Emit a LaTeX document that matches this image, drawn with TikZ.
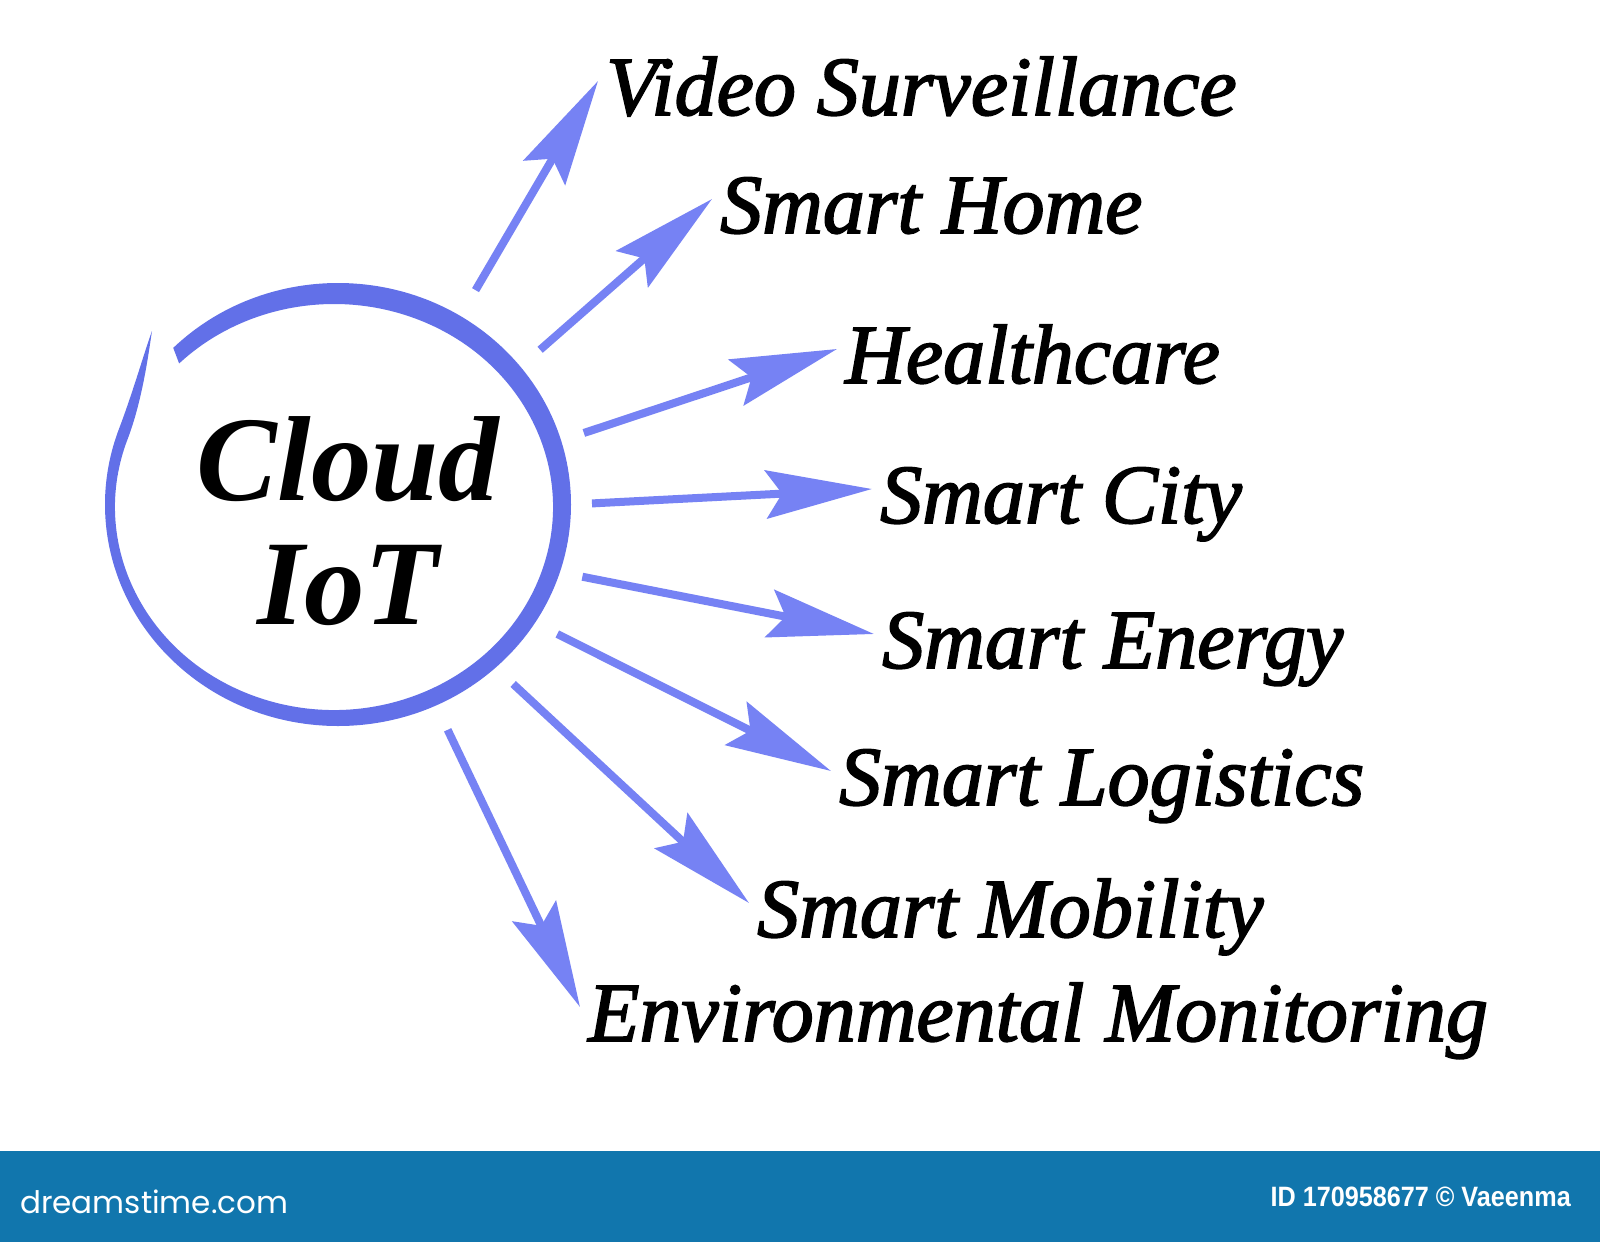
\documentclass[tikz,border=0pt]{standalone}
\usepackage{fontspec}
\setmainfont{Liberation Serif}[ItalicFeatures={FakeBold=2}]
\newfontfamily\creditfont{Liberation Sans}[FakeStretch=0.9]
\newfontfamily\brandfont{Poppins}
\usetikzlibrary{arrows.meta,shapes.geometric}

\definecolor{ringblue}{RGB}{98,112,232}
\definecolor{spokeblue}{RGB}{118,130,244}
\definecolor{barblue}{RGB}{17,118,173}

\tikzset{
	hub/.style={ellipse, minimum width=466pt, minimum height=443pt, inner sep=0pt, outer sep=0pt},
	hubtext/.style={align=center, inner sep=0pt, font=\fontsize{121}{124}\selectfont\bfseries\itshape},
	topic/.style={anchor=base west, inner xsep=8pt, inner ysep=0pt, text height=68pt, text depth=0pt,
		font=\fontsize{84}{96}\selectfont\itshape},
	spoke/.style={->, spokeblue, line width=8pt},
}

\begin{document}
\begin{tikzpicture}[x=1pt, y=-1pt, >={Stealth[length=106pt, width=48pt, inset=16pt]}]

	\useasboundingbox (0,0) rectangle (1600,1242);
	\fill[white] (0,0) rectangle (1600,1242);

	%% hand drawn ring round the hub
	\node[hub] (cloud) at (338,504.5) {};
	\coordinate (ringin) at ([shift={(-4pt,-2.5pt)}]cloud.center);
	\fill[ringblue] ([shift={(135:233pt and 221.5pt)}]cloud.center)
		arc [start angle=135, end angle=-200, x radius=233pt, y radius=221.5pt]
		.. controls (133,392) and (145,350) .. (152,331)
		.. controls (149,350) and (143,398) .. ([shift={(160:219pt and 203pt)}]ringin)
		arc [start angle=-200, end angle=135, x radius=219pt, y radius=203pt]
		-- cycle;
	\node[hubtext] (hublabel) at ([shift={(10pt,-17pt)}]cloud.center) {Cloud\\IoT};

	%% topics
	\node[topic] (video) at (598,115) {Video Surveillance};
	\node[topic] (home) at (712,233) {Smart Home};
	\node[topic] (health) at (837,383) {Healthcare};
	\node[topic] (city) at (872,523) {Smart City};
	\node[topic] (energy) at (874,668) {Smart Energy};
	\node[topic] (logistics) at (831,805) {Smart Logistics};
	\node[topic] (mobility) at (749,937) {Smart Mobility};
	\node[topic] (environment) at (580,1041) {Environmental Monitoring};

	%% spokes
	\draw[spoke, shorten <=30pt] (cloud.57) -- (video.west);
	\draw[spoke, shorten <=26pt] (cloud.37) -- (home.west);
	\draw[spoke, shorten <=24pt] (cloud.16) -- (health.west);
	\draw[spoke, shorten <=21pt] (cloud.0) -- (city.west);
	\draw[spoke, shorten <=23pt] (cloud.-17) -- (energy.west);
	\draw[spoke, shorten <=25pt] (cloud.-31) -- (logistics.west);
	\draw[spoke, shorten <=24pt] (cloud.-46) -- (mobility.west);
	\draw[spoke, shorten <=27pt] (cloud.-64) -- (environment.west);

	%% footer bar
	\fill[barblue] (0,1151) rectangle (1600,1242);
	\node[anchor=base west, inner sep=0pt, text=white, font=\brandfont\fontsize{31}{31}\selectfont] (brand) at (20,1213) {dreamstime.com};
	\node[anchor=base east, inner sep=0pt, text=white, font=\creditfont\bfseries\fontsize{28}{28}\selectfont] (credit) at (1571,1206) {ID 170958677 © Vaeenma};

\end{tikzpicture}
\end{document}
